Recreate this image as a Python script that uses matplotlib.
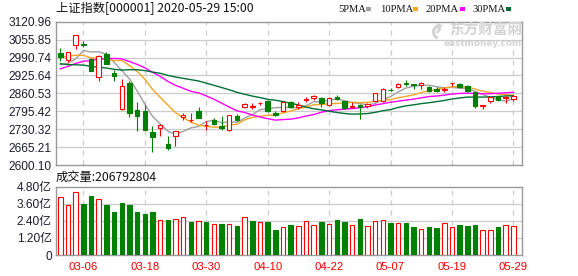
import numpy as np
import pandas as pd
import matplotlib
matplotlib.use("Agg")
import matplotlib.pyplot as plt
from matplotlib.patches import Rectangle, Wedge

plt.rcParams['font.family'] = ['Liberation Sans', 'Noto Sans CJK SC', 'DejaVu Sans']

# ---------------- data ----------------
dates = ["03-03", "03-04", "03-05", "03-06", "03-09", "03-10", "03-11", "03-12", "03-13", "03-16",
         "03-17", "03-18", "03-19", "03-20", "03-23", "03-24", "03-25", "03-26", "03-27", "03-30",
         "03-31", "04-01", "04-02", "04-03", "04-07", "04-08", "04-09", "04-10", "04-13", "04-14",
         "04-15", "04-16", "04-17", "04-20", "04-21", "04-22", "04-23", "04-24", "04-27", "04-28",
         "04-29", "04-30", "05-06", "05-07", "05-08", "05-11", "05-12", "05-13", "05-14", "05-15",
         "05-18", "05-19", "05-20", "05-21", "05-22", "05-25", "05-26", "05-27", "05-28", "05-29"]

open_ = [3006.89, 2981.81, 3036.15, 3039.94, 2987.18, 2918.93, 3001.76, 2936.02, 2804.23, 2899.94,
         2800.0, 2795.0, 2719.0, 2733.0, 2677.0, 2705.0, 2775.0, 2763.0, 2795.0, 2744.0,
         2762.0, 2741.0, 2727.0, 2778.0, 2811.0, 2812.0, 2824.0, 2831.0, 2788.0, 2796.0,
         2830.0, 2812.0, 2836.0, 2843.0, 2845.0, 2818.0, 2849.0, 2832.0, 2812.0, 2818.0,
         2814.0, 2832.0, 2832.0, 2874.0, 2885.0, 2898.0, 2893.0, 2890.0, 2884.0, 2878.0,
         2872.0, 2898.0, 2896.0, 2887.0, 2866.0, 2816.0, 2831.0, 2850.0, 2843.0, 2840.0]
high = [3026.84, 3012.00, 3074.26, 3052.44, 2989.20, 3000.29, 3010.03, 2944.47, 2910.88, 2903.63,
        2828.0, 2820.0, 2742.0, 2750.0, 2706.0, 2725.0, 2790.0, 2789.0, 2811.0, 2759.0,
        2770.0, 2778.0, 2782.0, 2787.0, 2824.0, 2826.0, 2828.0, 2838.0, 2795.0, 2829.0,
        2831.0, 2828.0, 2849.0, 2853.0, 2846.0, 2846.0, 2853.0, 2834.0, 2830.0, 2822.0,
        2826.0, 2861.0, 2878.5, 2881.0, 2899.0, 2908.0, 2896.0, 2901.0, 2887.0, 2883.0,
        2885.0, 2899.0, 2899.0, 2892.0, 2867.0, 2818.0, 2849.0, 2852.0, 2850.0, 2856.0]
low = [2976.62, 2974.36, 3022.93, 3029.46, 2940.71, 2904.80, 2968.52, 2906.28, 2799.98, 2776.02,
       2724.0, 2726.0, 2646.8, 2705.0, 2653.0, 2668.0, 2762.0, 2756.0, 2771.0, 2727.0,
       2745.0, 2726.0, 2724.0, 2759.0, 2808.0, 2805.0, 2819.0, 2792.0, 2780.0, 2794.0,
       2808.0, 2802.0, 2830.0, 2836.0, 2811.0, 2813.0, 2836.0, 2804.0, 2806.0, 2768.0,
       2806.0, 2830.0, 2829.0, 2868.0, 2880.0, 2888.0, 2876.0, 2877.0, 2866.0, 2865.0,
       2866.0, 2888.0, 2881.0, 2864.0, 2808.0, 2804.0, 2827.0, 2832.0, 2826.0, 2832.0]
close = [2992.90, 3011.67, 3071.68, 3034.51, 2943.29, 2996.76, 2968.52, 2923.49, 2887.43, 2789.25,
         2779.64, 2728.76, 2702.13, 2745.62, 2660.17, 2722.44, 2781.59, 2764.91, 2772.20, 2747.21,
         2750.30, 2734.52, 2780.64, 2763.99, 2820.76, 2815.37, 2825.90, 2796.63, 2783.05, 2827.28,
         2811.17, 2819.94, 2838.49, 2852.55, 2827.01, 2843.98, 2838.50, 2808.53, 2815.49, 2810.02,
         2822.44, 2860.08, 2878.14, 2871.52, 2895.34, 2894.80, 2891.56, 2898.05, 2870.34, 2868.46,
         2875.42, 2898.58, 2883.74, 2867.92, 2813.77, 2817.97, 2846.55, 2836.80, 2846.22, 2852.35]

# closes of the 29 sessions before 03-03 (needed for the moving averages)
hist_close = [3106.82, 3090.04, 3074.08, 3075.50, 3095.79, 3052.14, 3060.75, 2976.53, 2746.61, 2783.29,
              2818.09, 2866.51, 2875.96, 2890.49, 2901.67, 2926.90, 2906.07, 2917.01, 2983.62, 2984.97,
              2975.40, 3030.15, 3039.67, 3031.23, 3013.05, 2987.93, 2991.33, 2880.30, 2970.93]

# volume in 亿
volume = [4.08, 3.51, 4.41, 3.60, 4.15, 3.92, 3.53, 3.05, 3.67, 3.53,
          3.05, 2.91, 3.05, 2.47, 2.49, 2.54, 2.68, 2.35, 2.40, 2.35,
          2.15, 2.17, 2.15, 2.01, 2.68, 2.42, 2.33, 2.33, 1.73, 1.98,
          2.08, 2.01, 2.40, 2.08, 2.35, 2.15, 2.49, 2.35, 2.08, 2.56,
          2.01, 2.40, 2.47, 2.28, 2.28, 2.22, 1.94, 1.85, 1.94, 1.87,
          2.22, 1.94, 2.08, 2.01, 2.08, 1.73, 1.73, 1.94, 2.08, 2.07]

price_ticks = [2600.10, 2665.21, 2730.32, 2795.42, 2860.53, 2925.64, 2990.74, 3055.85, 3120.96]
vol_ticks = [0, 1.20, 2.40, 3.60, 4.80]
vol_tick_labels = ["0", "1.20亿", "2.40亿", "3.60亿", "4.80亿"]
date_ticks = ["03-06", "03-18", "03-30", "04-10", "04-22", "05-07", "05-19", "05-29"]
ma_periods = [5, 10, 20, 30]
ma_names = ["5PMA", "10PMA", "20PMA", "30PMA"]
title_text = "上证指数[000001] 2020-05-29 15:00"
vol_title = "成交量:206792804"

# ---------------- styles ----------------
RED = "#ff0000"
GREEN = "#008000"
MA_COLORS = ["#a0a0a0", "#f5a623", "#ff00ff", "#006f35"]
GRID = "#cccccc"
BORDER = "#999999"
WM = "#d4d4d4"

W, H = 578, 276
fig = plt.figure(figsize=(W / 100, H / 100), dpi=100)
fig.patch.set_facecolor("white")

def fx(px):
    return px / W

def fy(py):
    return 1 - py / H

left, right = 56, 522.3
ptop, pbot = 21.7, 165.0
vtop, vbot = 186.7, 255.0

ax = fig.add_axes([fx(left), fy(pbot), fx(right - left), (pbot - ptop) / H])
axv = fig.add_axes([fx(left), fy(vbot), fx(right - left), (vbot - vtop) / H])

n = len(close)
x = np.arange(n)
o = np.array(open_); h = np.array(high); l = np.array(low); c = np.array(close)
xlim = (-0.56, 60.16)

# ---------------- grids ----------------
tick_idx = [dates.index(d) for d in date_ticks]
for a in (ax, axv):
    a.set_xlim(*xlim)
    for s in a.spines.values():
        s.set_color(BORDER)
        s.set_linewidth(1.0)
    for ti in tick_idx:
        a.axvline(ti, color=GRID, lw=0.9, ls=(0, (4, 4)), zorder=0)
    a.tick_params(length=0)

ax.set_ylim(price_ticks[0], price_ticks[-1])
for t in price_ticks[1:-1]:
    ax.axhline(t, color=GRID, lw=0.9, zorder=0)
ax.set_yticks(price_ticks)
ax.set_yticklabels([f"{t:.2f}" for t in price_ticks], fontsize=8.6, color="#1c1c2c")
ax.tick_params(axis="y", pad=3)
ax.set_xticks([])

axv.set_ylim(0, 4.80)
for t in vol_ticks[1:-1]:
    axv.axhline(t, color=GRID, lw=0.9, zorder=0)
axv.set_yticks(vol_ticks)
axv.set_yticklabels(vol_tick_labels, fontsize=8.6, color="#1c1c2c")
axv.tick_params(axis="y", pad=3)
axv.set_xticks(tick_idx)
axv.set_xticklabels(date_ticks, fontsize=8.2, color=RED)
axv.tick_params(axis="x", pad=5)

# ---------------- watermark (behind data) ----------------
fig.text(fx(522), fy(30), "东方财富网", fontsize=10.5, color=WM, va="center", ha="right",
         family=["Noto Sans CJK SC"], fontweight="bold", zorder=0)
fig.text(fx(522), fy(43), "eastmoney.com", fontsize=6.4, color=WM, va="center", ha="right",
         family=["DejaVu Sans"], fontweight="bold", zorder=0)
logo = fig.add_axes([fx(426), fy(40), fx(22), 18 / H])
logo.set_xlim(0, 22); logo.set_ylim(0, 18); logo.set_aspect("auto"); logo.axis("off")
logo.add_patch(Wedge((14, 8), 8, 110, 250, width=3.2, facecolor=WM, edgecolor="none"))
logo.add_patch(Wedge((9, 12), 6, -70, 60, width=2.6, facecolor=WM, edgecolor="none"))
logo.add_patch(Wedge((16, 11), 4.5, 90, 200, width=2.0, facecolor=WM, edgecolor="none"))

# ---------------- moving averages ----------------
all_close = pd.Series(list(hist_close) + list(close))
for per, col in zip(ma_periods, MA_COLORS):
    ma = all_close.rolling(per).mean().to_numpy()[len(hist_close):]
    ax.plot(x, ma, color=col, lw=1.0, zorder=2, solid_joinstyle="round")

# ---------------- candles ----------------
bw = 0.58
lw = 0.8
for i in range(n):
    if c[i] >= o[i]:
        top, bot = c[i], o[i]
        ax.vlines(x[i], top, h[i], color=RED, lw=lw, zorder=3)
        ax.vlines(x[i], l[i], bot, color=RED, lw=lw, zorder=3)
        ax.bar(x[i], max(top - bot, 0.01), bottom=bot, width=bw, facecolor="white",
               edgecolor=RED, linewidth=lw, zorder=4)
    else:
        ax.vlines(x[i], l[i], h[i], color=GREEN, lw=lw, zorder=3)
        ax.bar(x[i], o[i] - c[i], bottom=c[i], width=bw, facecolor=GREEN,
               edgecolor=GREEN, linewidth=lw, zorder=4)

# ---------------- volume ----------------
prev = np.concatenate([[hist_close[-1]], c[:-1]])
vol = np.array(volume)
for i in range(n):
    if c[i] >= prev[i]:
        axv.bar(x[i], vol[i], width=bw, facecolor="white", edgecolor=RED, linewidth=lw, zorder=3)
    else:
        axv.bar(x[i], vol[i], width=bw, facecolor=GREEN, edgecolor=GREEN, linewidth=lw, zorder=3)

# ---------------- texts ----------------
fig.text(fx(56), fy(9), title_text, fontsize=8.8, color="#111111", va="center", ha="left",
         family=["Noto Sans CJK SC", "DejaVu Sans"])
fig.text(fx(56), fy(177), vol_title, fontsize=8.8, color="#111111", va="center", ha="left",
         family=["Noto Sans CJK SC", "DejaVu Sans"])

leg_x = [338, 380, 425.5, 472]
mark_x = [366, 412.5, 460, 505.5]
for name, col, tx, mx in zip(ma_names, MA_COLORS, leg_x, mark_x):
    fig.text(fx(tx), fy(9), name, fontsize=7.6, color="#111111", va="center", ha="left",
             family=["Liberation Serif"])
    fig.patches.append(Rectangle((fx(mx), fy(10.5)), fx(5), 3 / H, transform=fig.transFigure,
                                 facecolor=col, edgecolor="none"))

fig.savefig("out.png", dpi=100)
